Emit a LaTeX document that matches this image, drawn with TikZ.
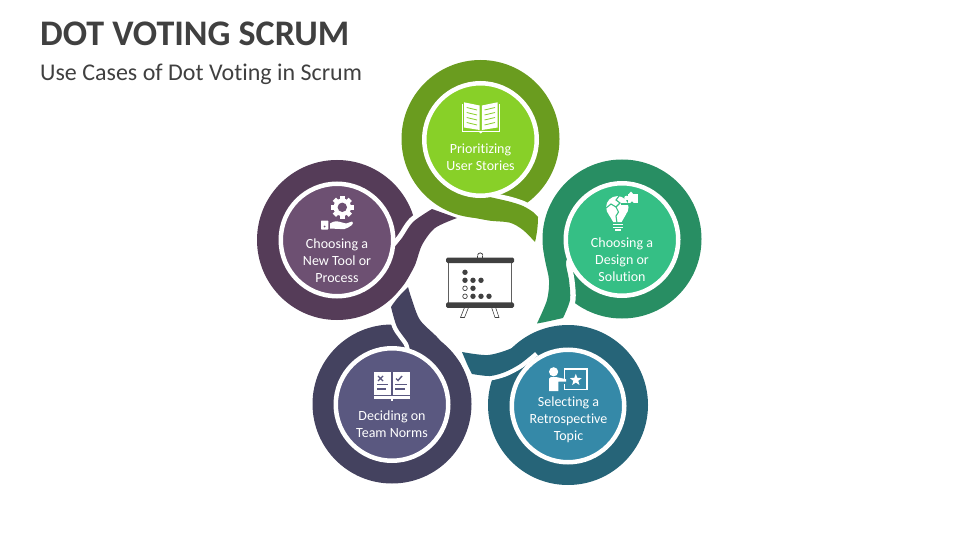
\documentclass[tikz,border=0pt]{standalone}
\usepackage{fontspec}
\setmainfont[Ligatures=NoCommon]{Carlito}
\usetikzlibrary{shapes.geometric}
\definecolor{ttl}{HTML}{404040}
\definecolor{gRing}{HTML}{6A9C1F}\definecolor{gIn}{HTML}{88D028}
\definecolor{eRing}{HTML}{288E63}\definecolor{eIn}{HTML}{35BF85}
\definecolor{tRing}{HTML}{266478}\definecolor{tIn}{HTML}{3589A8}
\definecolor{nRing}{HTML}{44425F}\definecolor{nIn}{HTML}{5A5880}
\definecolor{pRing}{HTML}{553C58}\definecolor{pIn}{HTML}{6D5072}
\definecolor{ink}{HTML}{404040}
\tikzset{
 disc/.style={circle,draw=white,line width=4.5pt,minimum size=112.5pt,inner sep=0pt},
 lbl/.style={text=white,align=center,font=\fontsize{14}{17}\selectfont,inner sep=0pt},
 gapline/.style={draw=white,line width=#1},
 dot/.style={circle,fill=ink,minimum size=5.4pt,inner sep=0pt},
 odot/.style={circle,draw=ink,line width=0.7pt,fill=white,minimum size=4.6pt,inner sep=0pt},
}
\begin{document}
\begin{tikzpicture}[x=1pt,y=-1pt]
\useasboundingbox (0,0) rectangle (960,540);
\node[anchor=base west,inner sep=0pt,text=ttl,font=\fontsize{36}{36}\selectfont\bfseries] (title) at (40,46) {DOT VOTING SCRUM};
\node[anchor=base west,inner sep=0pt,text=ttl,font=\fontsize{24}{26}\selectfont] (subtitle) at (40,81) {Use Cases of Dot Voting in Scrum};

% teal
\fill[tRing] (568,405) circle (80pt);
\draw[gapline=9pt] plot[smooth] coordinates {(535,352)(520,364)(505,372)(490,376)(478,375.5)};
\fill[tRing] plot[smooth] coordinates {(535,352)(520,364)(505,372)(490,376)(472,374)} .. controls (468,367) and (465,359) .. (462,352)
  -- plot[smooth] coordinates {(462,352)(488,355)(512,348)(532,335)(545,329)} -- cycle;
\node[disc,fill=tIn] (teal) at (568,406) {};
% purple
\fill[pRing] (337,240) circle (80pt);
\draw[gapline=10pt] plot[smooth] coordinates {(392,250)(402,238)(413,222)(432,209)};
\fill[pRing] plot[smooth] coordinates {(392,250)(402,238)(413,222)(432,209)} -- (457,218)
  -- plot[smooth] coordinates {(457,218)(435,228)(422,245)(415,265)(405,283)(398,291)} -- cycle;
\node[disc,fill=pIn] (purple) at (337,240) {};
% indigo
\fill[nRing] (392,404) circle (79.5pt);
\draw[gapline=9pt] plot[smooth] coordinates {(410,352)(408,343)(397,327)(391,307)};
\fill[nRing] plot[smooth] coordinates {(410,352)(408,343)(397,327)(391,307)} .. controls (396,299) and (402,293) .. (408,287)
  -- plot[smooth] coordinates {(408,287)(412,300)(420,320)(437,337)(450,352)(460,363)(468,382)} -- cycle;
\node[disc,fill=nIn] (indigo) at (392,404.5) {};
% emerald
\fill[eRing] (622,239) circle (79.5pt);
\draw[gapline=11pt] plot[smooth] coordinates {(572,250)(566,262)(569,280)(570,300)(563,318)};
\fill[eRing] plot[smooth] coordinates {(572,250)(566,262)(569,280)(570,300)(563,318)} .. controls (554,320) and (546,322) .. (537,323.5)
  -- plot[smooth] coordinates {(537,323.5)(547,300)(549,280)(545,260)(543,240)} -- cycle;
\node[disc,fill=eIn] (emerald) at (622,239.5) {};
% green
\fill[gRing] (480.5,139) circle (79pt);
\draw[gapline=10pt] plot[smooth] coordinates {(478,193)(490,197)(510,201.7)(523,206)(533,212)(538,217)};
\fill[gRing] plot[smooth] coordinates {(478,193)(490,197)(510,201.7)(523,206)(533,212)(538,217)} .. controls (538,225) and (537,234) .. (535,242)
  -- plot[smooth] coordinates {(535,242)(523,230)(510,222.7)(490,220.7)(470,217)} -- cycle;
\node[disc,fill=gIn] (green) at (480.5,139.5) {};

% labels
\node[lbl] (lg) at (480.5,157) {Prioritizing\\User Stories};
\node[lbl] (le) at (622,260) {Choosing a\\Design or\\Solution};
\node[lbl] (lt) at (568.5,420) {Selecting a\\Retrospective\\Topic};
\node[lbl] (ln) at (392,424.5) {Deciding on\\Team Norms};
\node[lbl] (lp) at (337,261) {Choosing a\\New Tool or\\Process};

% book icon
\draw[white,line width=0.8pt] (462.5,104) -- (462.5,131.6) -- (499,131.6) -- (499,104);
\fill[white] (464,102.3) -- (479.6,105.5) -- (479.6,130) -- (464,127.5) -- cycle;
\fill[white] (497.6,102.3) -- (481.8,105.5) -- (481.8,130) -- (497.6,127.5) -- cycle;
\fill[white] (478,131) -- (483.5,131) -- (480.7,133.5) -- cycle;
\foreach \d in {0,5,10,15}{
  \draw[gIn,line width=0.8pt] (466.7,107.5+\d) -- (477,110+\d);
  \draw[gIn,line width=0.8pt] (495,107.5+\d) -- (484.5,110+\d);
}
% bulb icon
\fill[white] (617.3,207.3) circle (11.2pt);
\fill[white] (608.5,214) -- (613.2,222) -- (621.6,222) -- (626.2,214) -- cycle;
\draw[white,line width=1.1pt] (612.7,224.2) -- (623.3,224.2) (613.4,227.2) -- (622.6,227.2) (615.2,230) -- (620.7,230);
\draw[eIn,line width=1.1pt] (619,196) -- (616,200) -- (620,203) -- (616,207) -- (611,204) -- (606,208);
\draw[eIn,line width=1.1pt] (616,207) -- (618.5,212) -- (616,216) -- (617,223);
\draw[eIn,line width=1.1pt] (621,204) -- (629,204);
\fill[eIn] (623,191) rectangle (640,197);
\fill[white] (628,194) rectangle (638,202.5);
\fill[white] (626.5,198) circle (2.3pt);
\fill[white] (631,193.5) circle (1.8pt);
\fill[eIn] (632,203) circle (1.6pt);
% gear and hand icon
\foreach \a in {0,45,...,315}
  \fill[white,shift={(342.3,207.3)},rotate=\a] (-2.3,-11.3) rectangle (2.3,-7);
\fill[white] (342.3,207.3) circle (8.8pt);
\fill[pIn] (342.3,207.3) circle (4.7pt);
\fill[white,rounded corners=0.6pt] (321,220.5) rectangle (328.3,229.5);
\fill[pIn] (324.5,226.5) circle (1pt);
\fill[white] (330,223.5) .. controls (334,220.5) and (338,221) .. (342,222.5) -- (346,223.5) -- (352,221.5) .. controls (353.5,222) and (353,224) .. (352,225)
  .. controls (349,227) and (347,228.5) .. (344,229.2) -- (330,228.5) -- cycle;
% open book icon
\fill[white] (374,372.3) rectangle (391,395);
\fill[white] (393.3,372.3) rectangle (410,395);
\fill[white] (374,396.3) rectangle (410,399);
\fill[white] (390.5,399) rectangle (393,400.5);
\draw[nIn,line width=1.4pt] (378,376) -- (383,381) (383,376) -- (378,381);
\draw[nIn,line width=1.4pt] (396,378.5) -- (398,380.5) -- (402,376);
\draw[nIn,line width=1.3pt] (377,384.5) -- (388.3,384.5) (377,389) -- (386,389);
\draw[nIn,line width=1.3pt] (395,384.5) -- (407,384.5) (395,389) -- (405,389);
% teacher icon
\fill[white] (553.6,371.8) circle (4.6pt);
\fill[white] (549.2,378.5) .. controls (549.2,377.5) and (550,377) .. (551,377) -- (556,377) -- (566,379.2) -- (566,381.6) -- (558.4,381.6) -- (558.4,391) -- (549.2,391) -- cycle;
\draw[white,line width=1.5pt] (564.7,380) -- (564.7,369) -- (587.2,369) -- (587.2,389.7) -- (564.7,389.7) -- (564.7,384);
\node[star,star points=5,star point ratio=2.4,fill=white,minimum size=12.5pt,inner sep=0pt] (tstar) at (575.8,380) {};

% central board
\draw[gray!75!black,line width=1pt] (448.8,262) -- (448.8,303) (511.6,262) -- (511.6,303);
\draw[ink,line width=0.8pt] (477.6,255.5) arc[start angle=180,end angle=0,radius=2.6pt];
\draw[ink,line width=0.7pt] (477.6,255.5) -- (477.6,258) (482.8,255.5) -- (482.8,258);
\fill[ink,rounded corners=1.5pt] (446,257.5) rectangle (514,263);
\fill[ink,rounded corners=1.5pt] (446,302.3) rectangle (514,307.8);
\draw[ink,line width=0.6pt] (464.3,308) -- (460.5,317.5) -- (464.5,317.5) -- (468.3,308);
\draw[ink,line width=0.6pt] (491.8,308) -- (495,317.5) -- (499,317.5) -- (495.8,308);
\node[dot] (d1) at (465,272.3) {};
\node[dot] (d2) at (465,280.3) {};
\node[dot] (d3) at (473,280.3) {};
\node[dot] (d4) at (481,280.3) {};
\node[odot] (d5) at (465,288.3) {};
\node[dot] (d6) at (473,288.3) {};
\node[odot] (d7) at (465,296.3) {};
\node[dot] (d8) at (473,296.3) {};
\node[dot] (d9) at (481,296.3) {};
\node[dot] (d10) at (489,296.3) {};
\end{tikzpicture}
\end{document}
